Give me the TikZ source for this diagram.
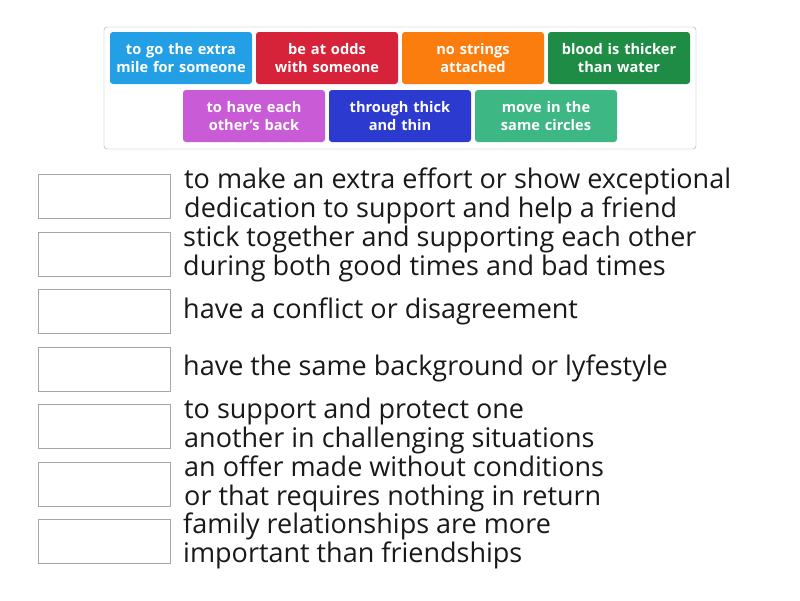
\documentclass[tikz,border=0pt]{standalone}
\usepackage{fontspec}
\setmainfont{Open Sans}
\begin{document}
\begin{tikzpicture}[x=1pt,y=-1pt,
  tile/.style={rounded corners=3pt,draw=none,minimum width=142pt,minimum height=52pt,text width=140pt,align=center,text=white,font=\fontsize{14.6}{17.5}\selectfont\bfseries,inner sep=0pt},
  ans/.style={draw=gray!70,minimum width=132pt,minimum height=44pt,inner sep=0pt},
  def/.style={anchor=west,align=left,font=\fontsize{27}{29.5}\selectfont,inner sep=0pt,text=black!90}]
\definecolor{cblue}{HTML}{239FE6}
\definecolor{cred}{HTML}{D7233A}
\definecolor{corange}{HTML}{FA7D0E}
\definecolor{cgreen}{HTML}{1E8C45}
\definecolor{cpurple}{HTML}{C95BD6}
\definecolor{cnavy}{HTML}{2C3ACF}
\definecolor{cteal}{HTML}{3DB885}
\path[fill=white] (0,0) rectangle (800,600);
\node[draw=gray!70,rounded corners=3pt,minimum width=592pt,minimum height=122pt] (bank) at (400,88) {};
\node[tile,fill=cblue] (t1) at (181,58) {to go the extra\\mile for someone};
\node[tile,fill=cred] (t2) at (327,58) {be at odds\\with someone};
\node[tile,fill=corange] (t3) at (473,58) {no strings\\attached};
\node[tile,fill=cgreen] (t4) at (619,58) {blood is thicker\\than water};
\node[tile,fill=cpurple] (t5) at (254,116) {to have each\\other's back};
\node[tile,fill=cnavy] (t6) at (400,116) {through thick\\and thin};
\node[tile,fill=cteal] (t7) at (546,116) {move in the\\same circles};
\foreach \i/\y in {1/196,2/254,3/311,4/369,5/426,6/484,7/541}{
  \node[ans] (a\i) at (104,\y) {};
}
\node[def] (d1) at (184,196) {to make an extra effort or show exceptional\\dedication to support and help a friend};
\node[def] (d2) at (183,254) {stick together and supporting each other\\during both good times and bad times};
\node[def] (d3) at (183,311) {have a conflict or disagreement};
\node[def] (d4) at (183,368) {have the same background or lyfestyle};
\node[def] (d5) at (184,426) {to support and protect one\\another in challenging situations};
\node[def] (d6) at (184,484) {an offer made without conditions\\or that requires nothing in return};
\node[def] (d7) at (183,541) {family relationships are more\\important than friendships};
\end{tikzpicture}
\end{document}
